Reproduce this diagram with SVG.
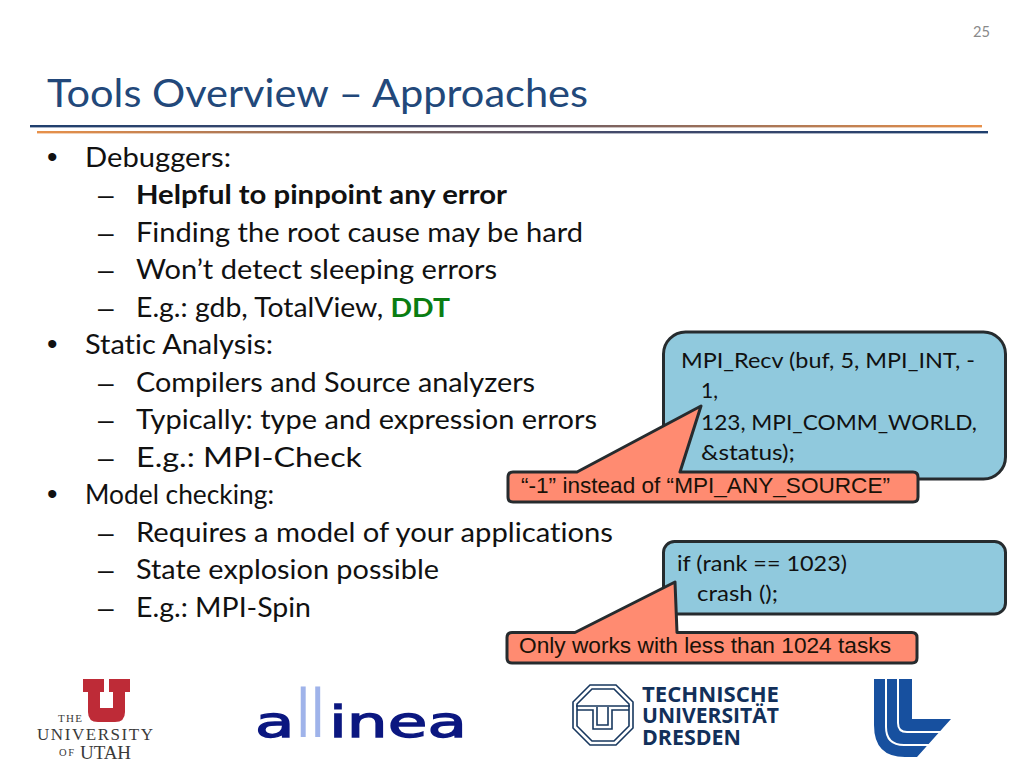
<svg xmlns="http://www.w3.org/2000/svg" width="1024" height="768" viewBox="0 0 1024 768">
<style>
text{font-family:"Lato","Open Sans",sans-serif;fill:#111;font-variant-ligatures:none}
.l0,.l1{font-size:27px}
.bul{font-family:"Liberation Sans",sans-serif;font-size:30px}
.dash{font-family:"Liberation Sans",sans-serif;font-size:28px}
.code{font-size:21.500px}
.note{font-family:"Liberation Sans",Arial,sans-serif;font-size:22.600px;fill:#1a1208}
.box{fill:#90c9dd;stroke:#262b2e;stroke-width:3;stroke-linejoin:round}
.red{fill:#ff8b71;stroke:#262b2e;stroke-width:3;stroke-linejoin:round}
.tu{fill:none;stroke:#17375e;stroke-width:1.6}
.tut{font-family:"Open Sans","Liberation Sans",sans-serif;font-weight:700;font-size:22px;fill:#12305a}
.ut{font-family:"Liberation Serif",serif;fill:#3a3a3a}
</style>
<defs>
<linearGradient id="g1" gradientUnits="userSpaceOnUse" x1="30" y1="0" x2="982" y2="0"><stop offset="0" stop-color="#1f3f6e"/><stop offset="0.4" stop-color="#444a6a"/><stop offset="1" stop-color="#e8914a"/></linearGradient>
<linearGradient id="g2" gradientUnits="userSpaceOnUse" x1="37" y1="0" x2="988" y2="0"><stop offset="0" stop-color="#e8914a"/><stop offset="0.6" stop-color="#444a6a"/><stop offset="1" stop-color="#1f3f6e"/></linearGradient>
</defs>
<rect width="1024" height="768" fill="#fff"/>
<g id="header">
<text x="973" y="37" font-size="14.5" style="fill:#8a8a8a" textLength="17" lengthAdjust="spacingAndGlyphs">25</text>
<text x="47" y="106.500" font-size="39" style="fill:#22487a" textLength="541" lengthAdjust="spacingAndGlyphs">Tools Overview – Approaches</text>
<rect x="30" y="125" width="952" height="2.4" fill="url(#g1)"/>
<rect x="37" y="131" width="951" height="2.4" fill="url(#g2)"/>
</g>
<g id="bullets">
<text class="bul" x="47" y="166.500">•</text>
<text class="l0" x="85" y="166.500" textLength="146" lengthAdjust="spacingAndGlyphs">Debuggers:</text>
<text class="dash" x="98" y="204">–</text>
<text class="l1" x="136" y="204" font-weight="700" textLength="371" lengthAdjust="spacingAndGlyphs">Helpful to pinpoint any error</text>
<text class="dash" x="98" y="241.500">–</text>
<text class="l1" x="136" y="241.500" textLength="447" lengthAdjust="spacingAndGlyphs">Finding the root cause may be hard</text>
<text class="dash" x="98" y="279">–</text>
<text class="l1" x="136" y="279" textLength="361" lengthAdjust="spacingAndGlyphs">Won’t detect sleeping errors</text>
<text class="dash" x="98" y="316.500">–</text>
<text class="l1" x="136" y="316.500" textLength="314" lengthAdjust="spacingAndGlyphs">E.g.: gdb, TotalView, <tspan font-weight="700" style="fill:#0a7d12">DDT</tspan></text>
<text class="bul" x="47" y="354">•</text>
<text class="l0" x="85" y="354" textLength="188" lengthAdjust="spacingAndGlyphs">Static Analysis:</text>
<text class="dash" x="98" y="391.500">–</text>
<text class="l1" x="136" y="391.500" textLength="399" lengthAdjust="spacingAndGlyphs">Compilers and Source analyzers</text>
<text class="dash" x="98" y="429">–</text>
<text class="l1" x="136" y="429" textLength="461" lengthAdjust="spacingAndGlyphs">Typically: type and expression errors</text>
<text class="dash" x="98" y="466.500">–</text>
<text class="l1" x="136" y="466.500" textLength="226" lengthAdjust="spacingAndGlyphs">E.g.: MPI-Check</text>
<text class="bul" x="47" y="504">•</text>
<text class="l0" x="85" y="504" textLength="189" lengthAdjust="spacingAndGlyphs">Model checking:</text>
<text class="dash" x="98" y="541.500">–</text>
<text class="l1" x="136" y="541.500" textLength="477" lengthAdjust="spacingAndGlyphs">Requires a model of your applications</text>
<text class="dash" x="98" y="579">–</text>
<text class="l1" x="136" y="579" textLength="303" lengthAdjust="spacingAndGlyphs">State explosion possible</text>
<text class="dash" x="98" y="616.500">–</text>
<text class="l1" x="136" y="616.500" textLength="175" lengthAdjust="spacingAndGlyphs">E.g.: MPI-Spin</text>
</g>
<g id="code-box-1">
<rect class="box" x="663.500" y="332" width="342" height="147" rx="22"/>
<text class="code" x="681" y="368" textLength="294" lengthAdjust="spacingAndGlyphs">MPI_Recv (buf, 5, MPI_INT, -</text>
<text class="code" x="701" y="398" textLength="17" lengthAdjust="spacingAndGlyphs">1,</text>
<text class="code" x="701" y="430" textLength="276" lengthAdjust="spacingAndGlyphs">123, MPI_COMM_WORLD,</text>
<text class="code" x="701" y="460" textLength="94" lengthAdjust="spacingAndGlyphs">&amp;status);</text>
</g>
<g id="callout-1">
<path class="red" d="M513 472H577L701 406L680 472H913Q918 472 918 477V497Q918 502 913 502H513Q508 502 508 497V477Q508 472 513 472Z"/>
<text class="note" x="521" y="493" textLength="369" lengthAdjust="spacingAndGlyphs">“-1” instead of “MPI_ANY_SOURCE”</text>
</g>
<g id="code-box-2">
<rect class="box" x="663.500" y="541.500" width="342" height="72.500" rx="11"/>
<text class="code" x="677" y="571" textLength="170" lengthAdjust="spacingAndGlyphs">if (rank == 1023)</text>
<text class="code" x="697" y="601" textLength="81" lengthAdjust="spacingAndGlyphs">crash ();</text>
</g>
<g id="callout-2">
<path class="red" d="M512 632.500H575L675 582L677 632.500H912Q917 632.500 917 637.500V658Q917 663 912 663H512Q507 663 507 658V637.500Q507 632.500 512 632.500Z"/>
<text class="note" x="519" y="653" textLength="372" lengthAdjust="spacingAndGlyphs">Only works with less than 1024 tasks</text>
</g>
<g id="logo-utah">
<path fill="#be2b37" d="M83 679H104V692H109V679H130V692H125V712Q125 722 115 722H98Q88 722 88 712V692H83Z"/>
<rect x="100" y="692" width="13" height="16" fill="#fff"/>
<rect x="104" y="679" width="5" height="14" fill="#fff"/>
<text class="ut" x="58" y="722" font-size="11" textLength="24" lengthAdjust="spacing">THE</text>
<text class="ut" x="37" y="740" font-size="17" textLength="116" lengthAdjust="spacing">UNIVERSITY</text>
<text class="ut" x="59" y="756" font-size="10.500" textLength="15" lengthAdjust="spacing">OF</text>
<text class="ut" x="80" y="759" font-size="19" textLength="51" lengthAdjust="spacing">UTAH</text>
</g>
<g id="logo-allinea">
<text transform="translate(255 737) scale(1.5 1)" x="0" y="0" font-size="43" stroke="#0b1780" stroke-width="1.3" style="font-family:'DejaVu Sans',sans-serif;fill:#0b1780">a<tspan x="24.700 34.400" font-size="66" font-weight="300" stroke="none" style="font-family:'Open Sans',sans-serif;fill:#9fb3ea">ll</tspan><tspan x="49.300">inea</tspan></text>
</g>
<g id="logo-tud">
<path class="tu" d="M590 685H616L633 702V728L616 745H590L573 728V702Z"/>
<path class="tu" d="M592 689H614L629 704V726L614 741H592L577 726V704Z"/>
<path class="tu" d="M576 706H630M577 710H593V729H612V710H629M597 707V725H608V707"/>
<text class="tut" x="642" y="702" textLength="137" lengthAdjust="spacingAndGlyphs">TECHNISCHE</text>
<text class="tut" x="642" y="723" textLength="137" lengthAdjust="spacingAndGlyphs">UNIVERSITÄT</text>
<text class="tut" x="642" y="745" textLength="99" lengthAdjust="spacingAndGlyphs">DRESDEN</text>
</g>
<g id="logo-llnl">
<path fill="#17509f" d="M874 679H912V719H951L917 757H905Q874 757 874 725Z"/>
<path fill="none" stroke="#fff" stroke-width="2" d="M886 678V727Q886 745 904 745H929M898 678V723Q898 732 907 732H941"/>
</g>
</svg>
